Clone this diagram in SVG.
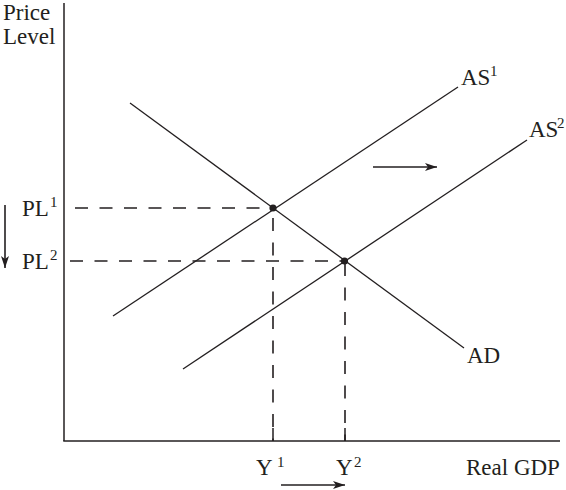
<svg xmlns="http://www.w3.org/2000/svg" width="566" height="490" viewBox="0 0 566 490">
<style>
.t{font-family:"Liberation Serif","DejaVu Serif",serif;font-size:23px;fill:#231f20}
.s{font-family:"Liberation Serif","DejaVu Serif",serif;font-size:15px;fill:#231f20}
.ax{stroke:#231f20;stroke-width:1.5;fill:none}
.ln{stroke:#231f20;stroke-width:1.3;fill:none}
.dash{stroke:#231f20;stroke-width:1.6;fill:none;stroke-dasharray:13 11.5}
.arr{stroke:#231f20;stroke-width:1.6;fill:none;marker-end:url(#ah)}
</style>
<defs>
<marker id="ah" viewBox="0 0 12 8" refX="12" refY="4" markerWidth="12" markerHeight="8" markerUnits="userSpaceOnUse" orient="auto">
<path d="M0,0 L12,4 L0,8 L3,4 Z" fill="#231f20"/>
</marker>
</defs>
<rect width="566" height="490" fill="#fff"/>
<g id="axes">
<line class="ax" x1="64" y1="3" x2="64" y2="441"/>
<line class="ax" x1="63.25" y1="441" x2="560" y2="441"/>
<line class="ax" x1="273" y1="428" x2="273" y2="441"/>
<line class="ax" x1="345" y1="428" x2="345" y2="441"/>
<text class="t" x="3" y="20">Price</text>
<text class="t" x="3" y="44">Level</text>
<text class="t" x="466" y="475">Real GDP</text>
</g>
<g id="connectors">
<line class="dash" x1="75" y1="208" x2="273" y2="208"/>
<line class="dash" x1="70" y1="261" x2="345" y2="261"/>
<line class="dash" x1="273" y1="208" x2="273" y2="441" stroke-dashoffset="-10"/>
<line class="dash" x1="345" y1="261" x2="345" y2="441" stroke-dashoffset="-2"/>
<line class="arr" x1="5" y1="205" x2="5" y2="268"/>
<line class="arr" x1="373" y1="167" x2="437" y2="167"/>
<line class="arr" x1="281" y1="485" x2="345" y2="485"/>
</g>
<g id="AS1">
<line class="ln" x1="113" y1="316" x2="458" y2="87"/>
<text class="t" x="461" y="85">AS</text>
<text class="s" x="490" y="76">1</text>
</g>
<g id="AS2">
<line class="ln" x1="183" y1="369" x2="527" y2="140"/>
<text class="t" x="529" y="137">AS</text>
<text class="s" x="557" y="128">2</text>
</g>
<g id="AD">
<line class="ln" x1="130" y1="103" x2="464" y2="348"/>
<text class="t" x="467" y="363">AD</text>
</g>
<g id="E1">
<circle cx="273" cy="208" r="3.6" fill="#231f20"/>
</g>
<g id="E2">
<circle cx="344.5" cy="261" r="3.6" fill="#231f20"/>
</g>
<g id="PL1">
<text class="t" x="22" y="216">PL</text>
<text class="s" x="50" y="207">1</text>
</g>
<g id="PL2">
<text class="t" x="22" y="269">PL</text>
<text class="s" x="50" y="260">2</text>
</g>
<g id="Y1">
<text class="t" x="256" y="475">Y</text>
<text class="s" x="277" y="467">1</text>
</g>
<g id="Y2">
<text class="t" x="336" y="475">Y</text>
<text class="s" x="354" y="467">2</text>
</g>
</svg>
